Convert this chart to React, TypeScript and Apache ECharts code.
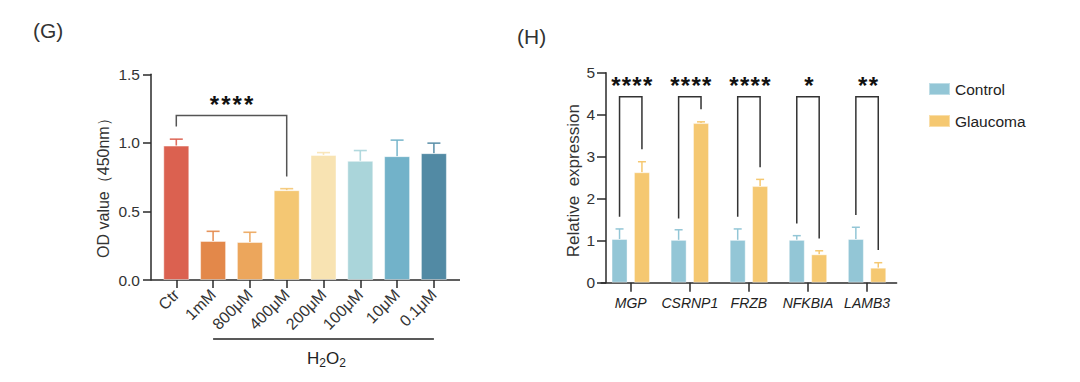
import React, { useEffect, useRef } from "react";
import * as echarts from "echarts";

// ---------- Panel G data ----------
const gCategories = ["Ctr", "1mM", "800μM", "400μM", "200μM", "100μM", "10μM", "0.1μM"];
const gValues = [0.98, 0.285, 0.277, 0.655, 0.912, 0.869, 0.903, 0.925];
const gErrorTops = [1.027, 0.355, 0.348, 0.666, 0.929, 0.944, 1.02, 0.998];
const gColors = ["#DB6150", "#E3884A", "#ECA65C", "#F4C773", "#F8E3B2", "#AAD5DA", "#72B2C9", "#528AA4"];
const gBracket = { from: 0, to: 3, leftLeg: 1.12, top: 1.2, rightLeg: 0.754, stars: "****", starLevel: 1.31 };
const gGroupLabel = { from: 1, to: 7 };

// ---------- Panel H data ----------
const hCategories = ["MGP", "CSRNP1", "FRZB", "NFKBIA", "LAMB3"];
const hControl = [1.04, 1.02, 1.02, 1.02, 1.04];
const hControlErrTop = [1.28, 1.26, 1.28, 1.12, 1.32];
const hGlaucoma = [2.63, 3.8, 2.3, 0.675, 0.357];
const hGlaucomaErrTop = [2.88, 3.83, 2.46, 0.76, 0.476];
const hStars = ["****", "****", "****", "*", "**"];
const hLeftLeg = [1.57, 1.53, 1.57, 1.41, 1.61];
const hRightLeg = [3.18, 4.13, 2.75, 1.05, 0.78];
const hBracketTop = 4.43;
const hStarLevel = 4.81;
const hColors = { control: "#93C6D6", glaucoma: "#F5C871" };

const FONT = "'Liberation Sans', Arial, sans-serif";
const AXIS = "#2a2a2a";
const H_BAR_W = 16;
const H_HALF = (H_BAR_W + H_BAR_W * 0.4) / 2;

function starTexts(cx: number, cy: number, stars: string, spacing: number) {
  const n = stars.length;
  const out: any[] = [];
  for (let k = 0; k < n; k++) {
    out.push({
      type: "text",
      style: {
        text: "*",
        x: cx + (k - (n - 1) / 2) * spacing,
        y: cy,
        align: "center",
        verticalAlign: "middle",
        font: `bold 24px ${FONT}`,
        fill: "#111",
      },
    });
  }
  return out;
}

export default function App() {
  const ref = useRef<HTMLDivElement>(null);
  useEffect(() => {
    document.body.style.margin = "0";
    const chart = echarts.init(ref.current!, null, { renderer: "svg" });

    const option: any = {
      animation: false,
      textStyle: { fontFamily: FONT },
      graphic: [
        { type: "text", left: 33, top: 20, style: { text: "(G)", font: `21px ${FONT}`, fill: "#333" } },
        { type: "text", left: 517, top: 26, style: { text: "(H)", font: `21px ${FONT}`, fill: "#333" } },
        { type: "line", shape: { x1: 151, y1: 280, x2: 460, y2: 280 }, style: { stroke: AXIS, lineWidth: 1.5 } },
      ],
      legend: {
        data: ["Control", "Glaucoma"],
        orient: "vertical",
        left: 928,
        top: 81,
        padding: 0,
        itemWidth: 21,
        itemHeight: 12,
        itemGap: 16,
        icon: "rect",
        textStyle: { fontSize: 15.5, color: "#222", fontFamily: FONT },
      },
      grid: [
        { left: 157.9, top: 74.3, width: 294.4, height: 205.7 },
        { left: 601.2, top: 72.7, width: 295.4, height: 210 },
      ],
      xAxis: [
        {
          gridIndex: 0,
          type: "category",
          data: gCategories,
          axisLine: { show: false },
          axisTick: { show: true, alignWithLabel: true, length: 8, lineStyle: { color: AXIS, width: 1.5 } },
          axisLabel: { rotate: 45, fontSize: 16, color: "#333", margin: 12, interval: 0 },
        },
        {
          gridIndex: 1,
          type: "category",
          data: hCategories,
          axisLine: { show: true, lineStyle: { color: AXIS, width: 1.5 } },
          axisTick: { show: true, alignWithLabel: true, length: 9, lineStyle: { color: AXIS, width: 1.5 } },
          axisLabel: { fontStyle: "italic", fontSize: 14, color: "#222", margin: 13, interval: 0 },
        },
      ],
      yAxis: [
        {
          gridIndex: 0,
          type: "value",
          min: 0,
          max: 1.5,
          interval: 0.5,
          offset: 6.9,
          name: "OD value（450nm）",
          nameLocation: "middle",
          nameGap: 40,
          nameTextStyle: { fontSize: 16, color: "#333", padding: [0, 14, 0, 0] },
          axisLine: { show: true, lineStyle: { color: AXIS, width: 1.5 } },
          axisTick: { show: true, length: 8, lineStyle: { color: AXIS, width: 1.5 } },
          splitLine: { show: false },
          axisLabel: { fontSize: 15.5, color: "#333", margin: 11, formatter: (v: number) => v.toFixed(1) },
        },
        {
          gridIndex: 1,
          type: "value",
          min: 0,
          max: 5,
          interval: 1,
          offset: -4.8,
          name: "Relative  expression",
          nameLocation: "middle",
          nameGap: 24,
          nameTextStyle: { fontSize: 17, color: "#333", padding: [0, 6, 0, 0] },
          axisLine: { show: true, lineStyle: { color: AXIS, width: 1.5 } },
          axisTick: { show: true, length: 9, lineStyle: { color: AXIS, width: 1.5 } },
          splitLine: { show: false },
          axisLabel: { fontSize: 15.5, color: "#333", margin: 11 },
        },
      ],
      series: [
        {
          type: "bar",
          xAxisIndex: 0,
          yAxisIndex: 0,
          barWidth: 26,
          data: gValues.map((v, i) => ({
            value: v,
            itemStyle: { color: gColors[i], borderColor: "rgba(255,255,255,0.45)", borderWidth: 1 },
          })),
        },
        {
          type: "custom",
          xAxisIndex: 0,
          yAxisIndex: 0,
          silent: true,
          data: gValues.map((v, i) => [i, v, gErrorTops[i]]),
          renderItem: (params: any, api: any) => {
            const i = api.value(0);
            const lo = api.coord([i, api.value(1)]);
            const hi = api.coord([i, api.value(2)]);
            const c = gColors[params.dataIndex];
            const st = { stroke: c, lineWidth: 1.6, opacity: 0.9 };
            return {
              type: "group",
              children: [
                { type: "line", shape: { x1: lo[0], y1: lo[1], x2: hi[0], y2: hi[1] }, style: st },
                { type: "line", shape: { x1: hi[0] - 6.5, y1: hi[1], x2: hi[0] + 6.5, y2: hi[1] }, style: st },
              ],
            };
          },
        },
        {
          type: "custom",
          xAxisIndex: 0,
          yAxisIndex: 0,
          silent: true,
          data: [[gBracket.from, gBracket.to, gBracket.leftLeg, gBracket.top, gBracket.rightLeg, gBracket.starLevel]],
          renderItem: (params: any, api: any) => {
            const a = api.value(0), b = api.value(1);
            const p1 = api.coord([a, api.value(2)]);
            const p2 = api.coord([a, api.value(3)]);
            const p3 = api.coord([b, api.value(3)]);
            const p4 = api.coord([b, api.value(4)]);
            const s = api.coord([a, api.value(5)]);
            const cx = (p1[0] + p4[0]) / 2;
            return {
              type: "group",
              children: [
                {
                  type: "polyline",
                  shape: { points: [p1, p2, p3, p4] },
                  style: { stroke: "#555", lineWidth: 1.5, fill: "none" },
                },
                ...starTexts(cx, s[1] + 4, gBracket.stars, 11.4),
              ],
            };
          },
        },
        {
          type: "custom",
          xAxisIndex: 0,
          yAxisIndex: 0,
          silent: true,
          data: [[gGroupLabel.from, gGroupLabel.to]],
          renderItem: (params: any, api: any) => {
            const p1 = api.coord([api.value(0), 0]);
            const p2 = api.coord([api.value(1), 0]);
            const ly = p1[1] + 59;
            const cx = (p1[0] + p2[0]) / 2 + 3;
            const ty = p1[1] + 78;
            const parts = [
              { t: "H", s: 17, w: 12.3, dy: 0 },
              { t: "2", s: 12, w: 6.7, dy: 4.5 },
              { t: "O", s: 17, w: 13.2, dy: 0 },
              { t: "2", s: 12, w: 6.7, dy: 4.5 },
            ];
            const total = parts.reduce((acc, p) => acc + p.w, 0);
            let x = cx - total / 2;
            const texts = parts.map((p) => {
              const el = {
                type: "text",
                style: {
                  text: p.t,
                  x,
                  y: ty + p.dy,
                  align: "left",
                  verticalAlign: "middle",
                  font: `${p.s}px ${FONT}`,
                  fill: "#222",
                },
              };
              x += p.w;
              return el;
            });
            return {
              type: "group",
              children: [
                { type: "line", shape: { x1: p1[0], y1: ly, x2: p2[0], y2: ly }, style: { stroke: "#222", lineWidth: 1.3 } },
                ...texts,
              ],
            };
          },
        },
        {
          name: "Control",
          type: "bar",
          xAxisIndex: 1,
          yAxisIndex: 1,
          barWidth: H_BAR_W,
          barGap: "40%",
          itemStyle: { color: hColors.control, borderColor: "rgba(255,255,255,0.4)", borderWidth: 1 },
          data: hControl,
        },
        {
          name: "Glaucoma",
          type: "bar",
          xAxisIndex: 1,
          yAxisIndex: 1,
          barWidth: H_BAR_W,
          barGap: "40%",
          itemStyle: { color: hColors.glaucoma, borderColor: "rgba(255,255,255,0.4)", borderWidth: 1 },
          data: hGlaucoma,
        },
        {
          type: "custom",
          xAxisIndex: 1,
          yAxisIndex: 1,
          silent: true,
          data: [
            ...hControl.map((v, i) => [i, v, hControlErrTop[i], 0]),
            ...hGlaucoma.map((v, i) => [i, v, hGlaucomaErrTop[i], 1]),
          ],
          renderItem: (params: any, api: any) => {
            const i = api.value(0);
            const grp = api.value(3);
            const lo = api.coord([i, api.value(1)]);
            const hi = api.coord([i, api.value(2)]);
            const x = lo[0] + (grp === 0 ? -H_HALF : H_HALF);
            const c = grp === 0 ? hColors.control : hColors.glaucoma;
            const st = { stroke: c, lineWidth: 1.5 };
            return {
              type: "group",
              children: [
                { type: "line", shape: { x1: x, y1: lo[1], x2: x, y2: hi[1] }, style: st },
                { type: "line", shape: { x1: x - 4, y1: hi[1], x2: x + 4, y2: hi[1] }, style: st },
              ],
            };
          },
        },
        {
          type: "custom",
          xAxisIndex: 1,
          yAxisIndex: 1,
          silent: true,
          data: hCategories.map((c, i) => [i, hLeftLeg[i], hRightLeg[i], hBracketTop, hStarLevel]),
          renderItem: (params: any, api: any) => {
            const i = api.value(0);
            const base = api.coord([i, api.value(3)]);
            const xl = base[0] - H_HALF;
            const xr = base[0] + H_HALF;
            const yl = api.coord([i, api.value(1)])[1];
            const yr = api.coord([i, api.value(2)])[1];
            const ys = api.coord([i, api.value(4)])[1];
            return {
              type: "group",
              children: [
                {
                  type: "polyline",
                  shape: { points: [[xl, yl], [xl, base[1]], [xr, base[1]], [xr, yr]] },
                  style: { stroke: "#333", lineWidth: 1.5, fill: "none" },
                },
                ...starTexts(base[0] + 1, ys + 5, hStars[params.dataIndex], 10.6),
              ],
            };
          },
        },
      ],
    };

    chart.setOption(option);
    return () => chart.dispose();
  }, []);

  return <div ref={ref} style={{ width: 1080, height: 382 }} />;
}
